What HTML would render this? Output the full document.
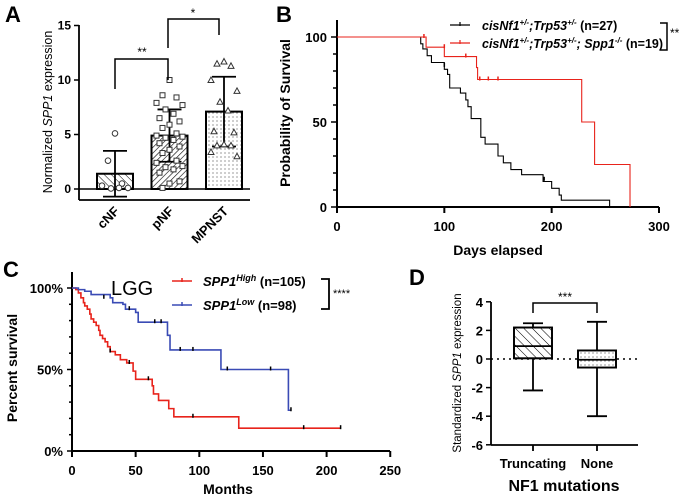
<!DOCTYPE html>
<html><head><meta charset="utf-8"><style>
body{margin:0;background:#fff;}
svg{display:block;font-family:"Liberation Sans",Arial,sans-serif;}
</style></head><body>
<svg id="fig" width="685" height="497" viewBox="0 0 685 497">
<defs>
<pattern id="hatch" width="4" height="4" patternUnits="userSpaceOnUse" patternTransform="rotate(45)"><line x1="0" y1="0" x2="0" y2="4" stroke="#000" stroke-width="1.2"/></pattern>
<pattern id="hatch2" width="5" height="5" patternUnits="userSpaceOnUse" patternTransform="rotate(-45)"><line x1="0" y1="0" x2="0" y2="5" stroke="#000" stroke-width="1"/></pattern>
<pattern id="hatch3" width="6" height="6" patternUnits="userSpaceOnUse" patternTransform="rotate(-45)"><line x1="0" y1="0" x2="0" y2="6" stroke="#000" stroke-width="1"/></pattern>
<pattern id="dots" width="4" height="4" patternUnits="userSpaceOnUse"><circle cx="1" cy="1" r="0.6" fill="#555"/></pattern>
</defs>
<g id="A"></g>
<g id="B"></g>
<g id="C"></g>
<g id="D"></g>
</svg>
<script>
// Panel A data
const aCategories=["cNF","pNF","MPNST"];
const aMeans=[1.4,4.9,7.1];
const aSD=[2.1,2.4,3.2];
const aTicks=[0,5,10,15];
const aPtsCNF=[5.1,2.6,0.5,0.3,0.1,0.05,0.1];
const aPtsPNF=[10,8.6,8.4,7.9,7.7,7.3,6.9,6.5,6.2,5.9,5.6,5.1,4.9,4.8,4.7,4.5,4.2,3.9,3.6,3.3,2.6,2.4,2.1,2.0,1.8,1.5,0.7,0.5,0.1];
const aPtsMPNST=[11.7,11.5,11.3,10,9,8,7.2,5.3,5.2,4.1,4.0,4.0,3.4,3.0];
// Panel B data
const bTicksX=[0,100,200,300];
const bTicksY=[0,50,100];
const bBlackT=[0,78,80,84,88,100,103,105,115,120,122,125,134,138,150,155,162,172,192,200,207,209,254];
const bBlackS=[100,96,93,89,85,81,78,70,67,63,59,52,41,37,30,26,22,19,15,11,7,4,0];
const bRedT=[0,83,100,130,131,228,240,273];
const bRedS=[100,94,88.5,82,75,50,25,0];
const bRedCens=[[81,100],[100,94],[120,88.5],[133,75],[141,75],[150,75]];
const bBlackCens=[[100,83],[193,16]];
// Panel C data
const cTicksX=[0,50,100,150,200,250];
const cTicksY=[0,50,100];
const cRedT=[0,3,5,7,9,10,12,14,15,17,19,21,22,24,26,28,30,34,38,43,48,50,63,64,68,76,80,131,211];
const cRedS=[100,99,97,94,91,89,87,84,81,79,77,74,71,69,67,64,61,59,56,54,49,44,40,35,31,26,21,14,14];
const cBlueT=[0,5,10,15,30,32,40,42,50,52,75,77,117,170,172];
const cBlueS=[100,99,98,96,94,91,90,87,85,79,71,62,50,25,25];
const cRedCens=[[30,61],[45,54],[60,44],[95,21],[182,14],[211,14]];
const cBlueCens=[[25,94],[45,87],[65,79],[70,79],[85,62],[95,62],[122,50],[156,50],[172,25]];
// Panel D data
const dCategories=["Truncating","None"];
const dMin=[-2.2,-4.0];
const dQ1=[0.05,-0.6];
const dMed=[0.9,-0.05];
const dQ3=[2.2,0.6];
const dMax=[2.5,2.6];
const dTicks=[-6,-4,-2,0,2,4];

const NS="http://www.w3.org/2000/svg";
function mk(parent,tag,attrs,txt){const e=document.createElementNS(NS,tag);for(const k in attrs)e.setAttribute(k,attrs[k]);if(txt!==undefined)e.textContent=txt;parent.appendChild(e);return e;}

// ---------- Panel A ----------
const A=document.getElementById('A');
const ay=v=>189-v*10.9;
const ax=i=>115+i*54.5;
let t=mk(A,'text',{x:5,y:22,'font-size':22,'font-weight':'bold'},'A');


let yl=mk(A,'line',{x1:79,y1:25,x2:79,y2:200,stroke:'#000','stroke-width':1.8});


let xl=mk(A,'line',{x1:79,y1:200,x2:250,y2:200,stroke:'#000','stroke-width':1.8});


mk(A,'line',{x1:79,y1:ay(0),x2:250,y2:ay(0),stroke:'#000','stroke-width':1.5});
aTicks.forEach(v=>{
  mk(A,'line',{x1:74,y1:ay(v),x2:79,y2:ay(v),stroke:'#000','stroke-width':1.5});
  const tt=mk(A,'text',{x:71,y:ay(v)+4,'font-size':12,'font-weight':'bold','text-anchor':'end'},v);
  
  
});
const fills=['url(#hatch2)','url(#hatch)','url(#dots)'];
aCategories.forEach((c,i)=>{
  const b=mk(A,'rect',{x:ax(i)-18,y:ay(aMeans[i]),width:36,height:ay(0)-ay(aMeans[i]),fill:fills[i],stroke:'#000','stroke-width':2});
  
  
  const e=mk(A,'path',{d:`M${ax(i)} ${ay(aMeans[i]-aSD[i])}V${ay(aMeans[i]+aSD[i])}M${ax(i)-12} ${ay(aMeans[i]+aSD[i])}h24M${ax(i)-12} ${ay(aMeans[i]-aSD[i])}h24`,stroke:'#000','stroke-width':1.8,fill:'none'});
  
  
  const lab=mk(A,'text',{x:0,y:0,'font-size':13,'font-weight':'bold','text-anchor':'end',transform:`translate(${ax(i)+5},${212}) rotate(-45)`},c);
  
  
});
const offs=[0,-7,7,-13,13,-4,4,-10,10];
aPtsCNF.forEach((v,k)=>{const p=mk(A,'circle',{cx:ax(0)+offs[k%9],cy:ay(v),r:2.8,fill:'#fff',stroke:'#333','stroke-width':1});
  });
aPtsPNF.forEach((v,k)=>{const p=mk(A,'rect',{x:ax(1)+offs[k%9]-2.5,y:ay(v)-2.5,width:5,height:5,fill:'#fff',stroke:'#333','stroke-width':1});
  });
aPtsMPNST.forEach((v,k)=>{const x=ax(2)+offs[k%9],y=ay(v);const p=mk(A,'path',{d:`M${x} ${y-3}L${x+3} ${y+2.5}L${x-3} ${y+2.5}Z`,fill:'#fff',stroke:'#333','stroke-width':1});
  });
let s1=mk(A,'path',{d:'M115 89V59H168V80',stroke:'#000','stroke-width':1.5,fill:'none'});

mk(A,'text',{x:142,y:56,'font-size':12,'text-anchor':'middle'},'**');
let s2=mk(A,'path',{d:'M168 48V19H219V35',stroke:'#000','stroke-width':1.5,fill:'none'});

mk(A,'text',{x:193,y:17,'font-size':12,'text-anchor':'middle'},'*');
let at=mk(A,'text',{x:0,y:0,'font-size':12.5,'text-anchor':'middle',transform:'translate(52,112) rotate(-90)'});

at.innerHTML='Normalized <tspan font-style="italic">SPP1</tspan> expression';

// ---------- KM helper ----------
function km(g,T,S,fx,fy,color,name,w){
  let d=`M${fx(T[0])} ${fy(S[0])}`;
  for(let i=1;i<T.length;i++){d+=`H${fx(T[i])}V${fy(S[i])}`;}
  const p=mk(g,'path',{d:d,stroke:color,'stroke-width':w,fill:'none'});
  
  
}
function cens(g,arr,fx,fy,color,name){
  arr.forEach(([tt,s])=>{const c=mk(g,'line',{x1:fx(tt),y1:fy(s)-3,x2:fx(tt),y2:fy(s)+1,stroke:color,'stroke-width':1.5});
  });
}

// ---------- Panel B ----------
const B=document.getElementById('B');
const bx=v=>337+v*1.0733, by=v=>207-v*1.7;
t=mk(B,'text',{x:276,y:22,'font-size':22,'font-weight':'bold'},'B');

let byax=mk(B,'line',{x1:337,y1:20,x2:337,y2:207,stroke:'#000','stroke-width':2});

let bxax=mk(B,'line',{x1:337,y1:207,x2:659,y2:207,stroke:'#000','stroke-width':2});

for(let v=0;v<=100;v+=10){mk(B,'line',{x1:v%50?333:331,y1:by(v),x2:337,y2:by(v),stroke:'#000','stroke-width':1.5});}
bTicksY.forEach(v=>{const tt=mk(B,'text',{x:327,y:by(v)+5,'font-size':13,'font-weight':'bold','text-anchor':'end'},v);
  });
bTicksX.forEach(v=>{mk(B,'line',{x1:bx(v),y1:207,x2:bx(v),y2:213,stroke:'#000','stroke-width':2});
  const tt=mk(B,'text',{x:bx(v),y:231,'font-size':13,'font-weight':'bold','text-anchor':'middle'},v);
  });
km(B,bBlackT,bBlackS,bx,by,'#000','km-cisnf1-trp53',1.1);
km(B,bRedT,bRedS,bx,by,'#e8231b','km-spp1-knockout',1.1);
cens(B,bRedCens,bx,by,'#e8231b','censor-red');
cens(B,bBlackCens,bx,by,'#000','censor-black');
let bt=mk(B,'text',{x:0,y:0,'font-size':14,'font-weight':'bold','text-anchor':'middle',transform:'translate(290,113) rotate(-90)'},'Probability of Survival');

let bxt=mk(B,'text',{x:498,y:255,'font-size':14,'font-weight':'bold','text-anchor':'middle'},'Days elapsed');

let lg=mk(B,'g',{});
mk(lg,'path',{d:'M450 25h20M460 22v4',stroke:'#000','stroke-width':1.2});
mk(lg,'path',{d:'M450 43h20M460 40v4',stroke:'#e8231b','stroke-width':1.2});
let l1=mk(lg,'text',{x:482,y:30,'font-size':12.5,'font-weight':'bold'});
l1.innerHTML='<tspan font-style="italic">cisNf1<tspan dy="-5" font-size="8">+/-</tspan><tspan dy="5">;Trp53</tspan><tspan dy="-5" font-size="8">+/-</tspan></tspan><tspan dy="5"> (n=27)</tspan>';
let l2=mk(lg,'text',{x:482,y:48,'font-size':12.5,'font-weight':'bold'});
l2.innerHTML='<tspan font-style="italic">cisNf1<tspan dy="-5" font-size="8">+/-</tspan><tspan dy="5">;Trp53</tspan><tspan dy="-5" font-size="8">+/-</tspan><tspan dy="5">; Spp1</tspan><tspan dy="-5" font-size="8">-/-</tspan></tspan><tspan dy="5"> (n=19)</tspan>';
mk(B,'path',{d:'M660 23h7v27h-7',stroke:'#000','stroke-width':1.5,fill:'none'});
mk(B,'text',{x:670,y:37,'font-size':12},'**');

// ---------- Panel C ----------
const C=document.getElementById('C');
const cx=v=>72+v*1.273, cy=v=>451-v*1.63;
t=mk(C,'text',{x:3,y:277,'font-size':22,'font-weight':'bold'},'C');

let cya=mk(C,'line',{x1:72,y1:272,x2:72,y2:451,stroke:'#000','stroke-width':2});

let cxa=mk(C,'line',{x1:72,y1:451,x2:390,y2:451,stroke:'#000','stroke-width':2});

for(let v=0;v<=100;v+=10){mk(C,'line',{x1:v%50?69:67,y1:cy(v),x2:72,y2:cy(v),stroke:'#000','stroke-width':1.5});}
cTicksY.forEach(v=>{const tt=mk(C,'text',{x:63,y:cy(v)+5,'font-size':13,'font-weight':'bold','text-anchor':'end'},v+'%');
  });
cTicksX.forEach(v=>{mk(C,'line',{x1:cx(v),y1:451,x2:cx(v),y2:457,stroke:'#000','stroke-width':2});
  const tt=mk(C,'text',{x:cx(v),y:475,'font-size':13,'font-weight':'bold','text-anchor':'middle'},v);
  });
km(C,cRedT,cRedS,cx,cy,'#e8231b','km-spp1-high',1.6);
km(C,cBlueT,cBlueS,cx,cy,'#3a4bb5','km-spp1-low',1.6);
cens(C,cRedCens,cx,cy,'#000','censor-high');
cens(C,cBlueCens,cx,cy,'#000','censor-low');
let ct=mk(C,'text',{x:0,y:0,'font-size':14,'font-weight':'bold','text-anchor':'middle',transform:'translate(17,368) rotate(-90)'},'Percent survival');

let cxt=mk(C,'text',{x:228,y:494,'font-size':14,'font-weight':'bold','text-anchor':'middle'},'Months');

let lgg=mk(C,'text',{x:111,y:295,'font-size':20},'LGG');

let cl=mk(C,'g',{});
mk(cl,'path',{d:'M172 281h20M182 278v4',stroke:'#e8231b','stroke-width':1.5});
mk(cl,'path',{d:'M172 305h20M182 302v4',stroke:'#3a4bb5','stroke-width':1.5});
let c1=mk(cl,'text',{x:203,y:286,'font-size':13,'font-weight':'bold'});
c1.innerHTML='<tspan font-style="italic">SPP1<tspan dy="-5" font-size="9">High</tspan></tspan><tspan dy="5"> (n=105)</tspan>';
let c2=mk(cl,'text',{x:203,y:310,'font-size':13,'font-weight':'bold'});
c2.innerHTML='<tspan font-style="italic">SPP1<tspan dy="-5" font-size="9">Low</tspan></tspan><tspan dy="5"> (n=98)</tspan>';
mk(C,'path',{d:'M321 279h8v30h-8',stroke:'#000','stroke-width':1.8,fill:'none'});
mk(C,'text',{x:333,y:297,'font-size':11},'****');

// ---------- Panel D ----------
const D=document.getElementById('D');
const dy=v=>359-v*14.3;
const dx=i=>533+i*64;
t=mk(D,'text',{x:409,y:285,'font-size':22,'font-weight':'bold'},'D');

let dya=mk(D,'line',{x1:491,y1:302,x2:491,y2:445,stroke:'#000','stroke-width':1.8});

let dxa=mk(D,'line',{x1:491,y1:445,x2:638,y2:445,stroke:'#000','stroke-width':1.8});

mk(D,'line',{x1:491,y1:dy(0),x2:638,y2:dy(0),stroke:'#000','stroke-width':1.5,'stroke-dasharray':'2,4'});
dTicks.forEach(v=>{mk(D,'line',{x1:486,y1:dy(v),x2:491,y2:dy(v),stroke:'#000','stroke-width':1.5});
  const tt=mk(D,'text',{x:483,y:dy(v)+5,'font-size':13,'font-weight':'bold','text-anchor':'end'},v);
  });
const dfill=['url(#hatch3)','url(#dots)'];
dCategories.forEach((c,i)=>{
  const x=dx(i);
  mk(D,'line',{x1:x,y1:445,x2:x,y2:451,stroke:'#000','stroke-width':1.8});
  const w=mk(D,'path',{d:`M${x} ${dy(dMax[i])}V${dy(dMin[i])}M${x-10} ${dy(dMax[i])}h20M${x-10} ${dy(dMin[i])}h20`,stroke:'#000','stroke-width':1.8,fill:'none'});
  
  const b=mk(D,'rect',{x:x-19,y:dy(dQ3[i]),width:38,height:dy(dQ1[i])-dy(dQ3[i]),fill:'#fff',stroke:'#000','stroke-width':1.8});
  
  mk(D,'rect',{x:x-19,y:dy(dQ3[i]),width:38,height:dy(dQ1[i])-dy(dQ3[i]),fill:dfill[i],stroke:'#000','stroke-width':1.8});
  mk(D,'line',{x1:x-19,y1:dy(dMed[i]),x2:x+19,y2:dy(dMed[i]),stroke:'#000','stroke-width':1.8});
  const l=mk(D,'text',{x:x,y:468,'font-size':13,'font-weight':'bold','text-anchor':'middle'},c);
  
});
let ds=mk(D,'path',{d:'M533 313V303H597V313',stroke:'#000','stroke-width':1.5,fill:'none'});

mk(D,'text',{x:565,y:301,'font-size':12,'text-anchor':'middle'},'***');
let dt=mk(D,'text',{x:0,y:0,'font-size':11.5,'text-anchor':'middle',transform:'translate(461,373) rotate(-90)'});
dt.innerHTML='Standardized <tspan font-style="italic">SPP1</tspan> expression';

let dxt=mk(D,'text',{x:564,y:491,'font-size':16,'font-weight':'bold','text-anchor':'middle'},'NF1 mutations');

</script>
</body></html>
